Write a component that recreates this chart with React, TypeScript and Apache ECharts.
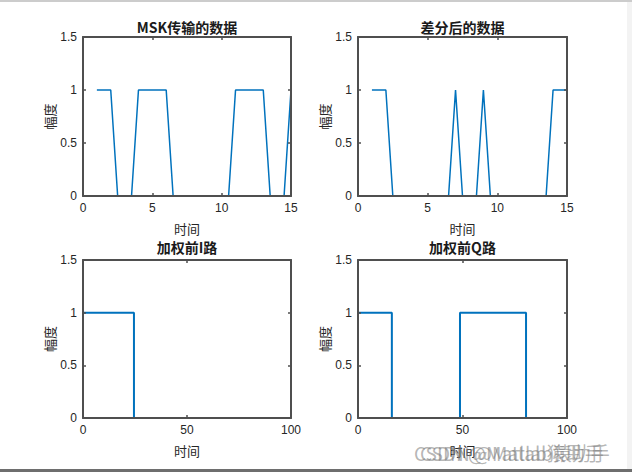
import React, { useEffect, useRef } from "react";
import * as echarts from "echarts";

const mskX = [1, 2, 2.5, 3.5, 4, 6, 6.5, 10.5, 11, 13, 13.5, 14.5, 15];
const mskY = [1, 1, 0, 0, 1, 1, 0, 0, 1, 1, 0, 0, 1];
const diffX = [1, 2, 2.5, 6.5, 7, 7.5, 8.5, 9, 9.5, 13.5, 14, 15];
const diffY = [1, 1, 0, 0, 1, 0, 0, 1, 0, 0, 1, 1];
const iX = [0, 24.5, 24.5, 100];
const iY = [1, 1, 0, 0];
const qX = [0, 16.2, 16.2, 48.8, 48.8, 80.4, 80.4, 100];
const qY = [1, 1, 0, 0, 1, 1, 0, 0];

const titles = ["MSK传输的数据", "差分后的数据", "加权前I路", "加权前Q路"];
const xName = "时间";
const yName = "幅度";
const watermark = "CSDN @Matlab猿助手";

const AX = "#4f4f4f";
const LBL = "#262626";
const NUMFONT = "'Liberation Sans', Arial, sans-serif";
const CJKFONT = "'Noto Sans CJK SC', 'Liberation Sans', sans-serif";

const grids = [
  { left: 83, top: 37, width: 208, height: 159 },
  { left: 358, top: 37, width: 209, height: 159 },
  { left: 83, top: 260, width: 208, height: 158 },
  { left: 358, top: 260, width: 209, height: 158 },
];
const xRanges = [
  { max: 15, interval: 5 },
  { max: 15, interval: 5 },
  { max: 100, interval: 50 },
  { max: 100, interval: 50 },
];
const seriesData = [
  { x: mskX, y: mskY, w: 1.5 },
  { x: diffX, y: diffY, w: 1.5 },
  { x: iX, y: iY, w: 2 },
  { x: qX, y: qY, w: 2 },
];

export default function App() {
  const ref = useRef<HTMLDivElement>(null);
  useEffect(() => {
    if (!ref.current) return;
    const chart = echarts.init(ref.current, null, { renderer: "svg" });
    const xAxis: any[] = [];
    const yAxis: any[] = [];
    const series: any[] = [];
    const graphic: any[] = [];
    grids.forEach((g, i) => {
      const axLine = { show: true, lineStyle: { color: AX, width: 2 } };
      const tick = { show: true, inside: true, length: 3, lineStyle: { color: AX, width: 1.5 } };
      xAxis.push({
        type: "value", gridIndex: i, position: "bottom", min: 0, max: xRanges[i].max,
        interval: xRanges[i].interval, z: 5,
        axisLine: { ...axLine, onZero: false }, axisTick: tick, splitLine: { show: false },
        axisLabel: { color: LBL, fontSize: 12, fontFamily: NUMFONT, margin: 6 },
        name: xName, nameLocation: "middle", nameGap: 26,
        nameTextStyle: { color: LBL, fontSize: 13, fontFamily: CJKFONT },
      });
      xAxis.push({
        type: "value", gridIndex: i, position: "top", min: 0, max: xRanges[i].max,
        interval: xRanges[i].interval, z: 5,
        axisLine: { ...axLine, onZero: false }, axisTick: tick, splitLine: { show: false },
        axisLabel: { show: false },
      });
      yAxis.push({
        type: "value", gridIndex: i, position: "left", min: 0, max: 1.5, interval: 0.5, z: 5,
        axisLine: { ...axLine, onZero: false }, axisTick: tick, splitLine: { show: false },
        axisLabel: { color: LBL, fontSize: 12, fontFamily: NUMFONT, margin: 6 },
        name: yName, nameLocation: "middle", nameGap: 14, nameRotate: 90,
        nameTextStyle: { color: LBL, fontSize: 13, fontFamily: CJKFONT },
      });
      yAxis.push({
        type: "value", gridIndex: i, position: "right", min: 0, max: 1.5, interval: 0.5, z: 5,
        axisLine: { ...axLine, onZero: false }, axisTick: tick, splitLine: { show: false },
        axisLabel: { show: false },
      });
      const d = seriesData[i];
      series.push({
        type: "line", xAxisIndex: i * 2, yAxisIndex: i * 2, z: 1,
        data: d.x.map((x, k) => [x, d.y[k]]),
        showSymbol: false, clip: true,
        lineStyle: { color: "#0072BD", width: d.w },
      });
      graphic.push({
        type: "text", z: 10,
        style: {
          text: titles[i], x: g.left + g.width / 2, y: i < 2 ? 27 : 247,
          textAlign: "center", textVerticalAlign: "middle",
          font: `bold 14px ${CJKFONT}`, fill: "#1a1a1a",
        },
      });
    });
    graphic.push(
      { type: "rect", z: 0, shape: { x: 0, y: 0, width: 632, height: 2 }, style: { fill: "#cccccc" } },
      { type: "rect", z: 0, shape: { x: 627, y: 2, width: 5, height: 468 }, style: { fill: "#f3f3f3" } },
      { type: "rect", z: 0, shape: { x: 0, y: 469, width: 632, height: 3 }, style: { fill: "#6e6e6e" } },
      {
        type: "text", z: 20,
        style: { text: watermark, x: 414, y: 452, textVerticalAlign: "middle", font: `19px ${CJKFONT}`, fill: "rgba(120,120,120,0.55)" },
      },
      {
        type: "text", z: 20,
        style: { text: watermark, x: 420, y: 452, textVerticalAlign: "middle", font: `19px ${CJKFONT}`, fill: "rgba(120,120,120,0.55)" },
      }
    );
    chart.setOption({
      animation: false,
      backgroundColor: "#ffffff",
      grid: grids.map((g) => ({ ...g, containLabel: false })),
      xAxis, yAxis, series, graphic,
    });
    return () => chart.dispose();
  }, []);
  return (
    <div
      ref={ref}
      style={{ position: "fixed", left: 0, top: 0, width: 632, height: 472 }}
    />
  );
}
